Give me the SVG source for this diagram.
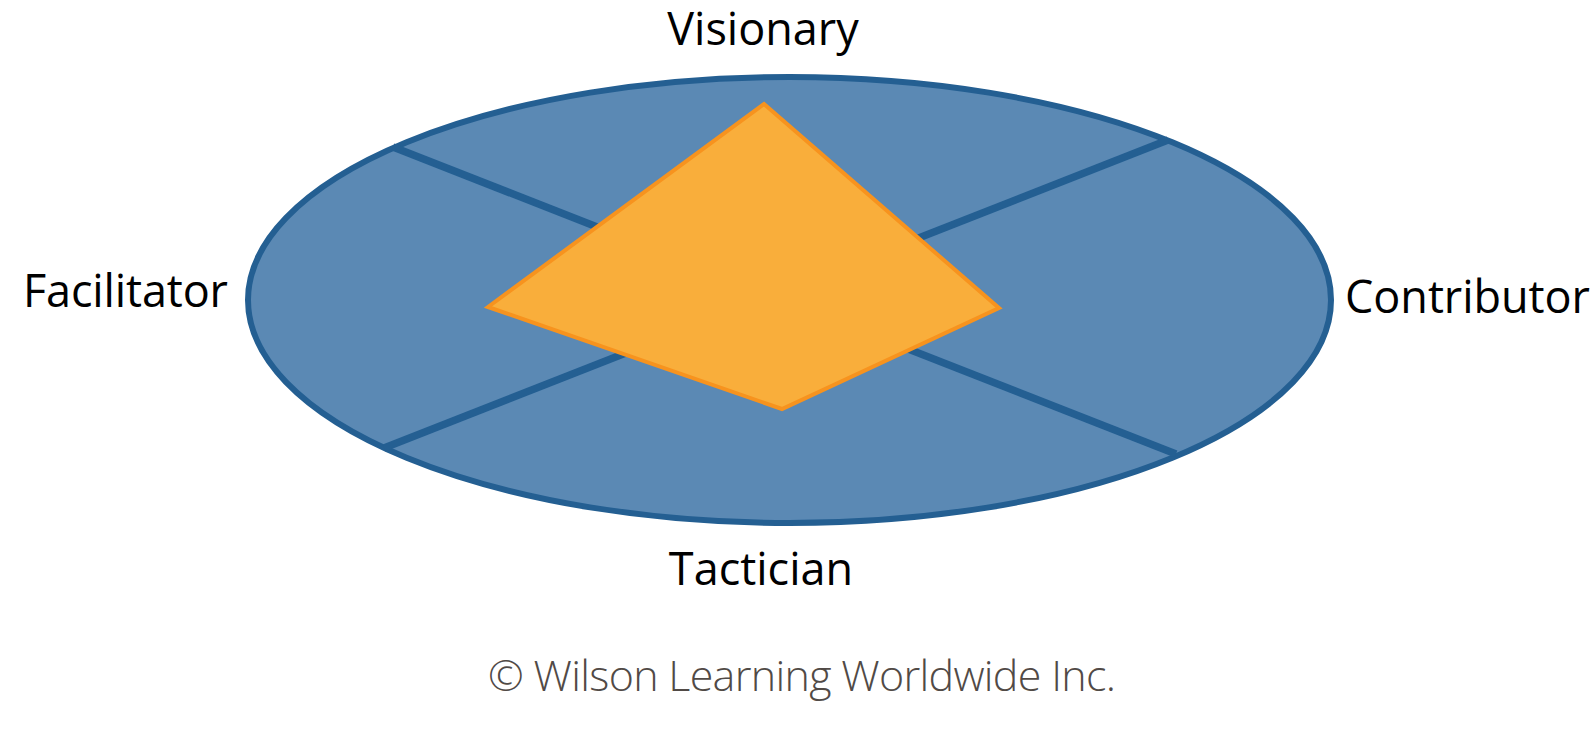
<svg xmlns="http://www.w3.org/2000/svg" width="1593" height="750" viewBox="0 0 1593 750">
<style>
.lbl{font-family:"Open Sans","Liberation Sans",sans-serif;font-size:45px;fill:#000;}
.copy{font-family:"Open Sans","Liberation Sans",sans-serif;font-weight:300;font-size:43px;fill:#514a46;}
.cross{stroke:#245f92;stroke-width:7.5;fill:none;}
</style>
<rect width="1593" height="750" fill="#fff"/>
<g id="ellipse">
<ellipse cx="789.5" cy="300" rx="541.5" ry="223" fill="#5b89b4" stroke="#245f92" stroke-width="6"/>
</g>
<g id="connectors">
<line class="cross" x1="393" y1="147" x2="1176" y2="454"/>
<line class="cross" x1="1168" y1="140" x2="384" y2="448"/>
</g>
<g id="diamond">
<polygon points="764,104 999,308 782,409 488,307" fill="#f9ae3b" stroke="#f7931e" stroke-width="4" stroke-linejoin="miter"/>
</g>
<g id="visionary"><text class="lbl" x="763" y="45" text-anchor="middle">Visionary</text></g>
<g id="facilitator"><text class="lbl" x="23" y="307" textLength="205">Facilitator</text></g>
<g id="contributor"><text class="lbl" x="1345" y="313" textLength="245">Contributor</text></g>
<g id="tactician"><text class="lbl" x="761" y="585" text-anchor="middle">Tactician</text></g>
<g id="copyright"><text class="copy" x="488" y="691" textLength="628">© Wilson Learning Worldwide Inc.</text></g>
</svg>
